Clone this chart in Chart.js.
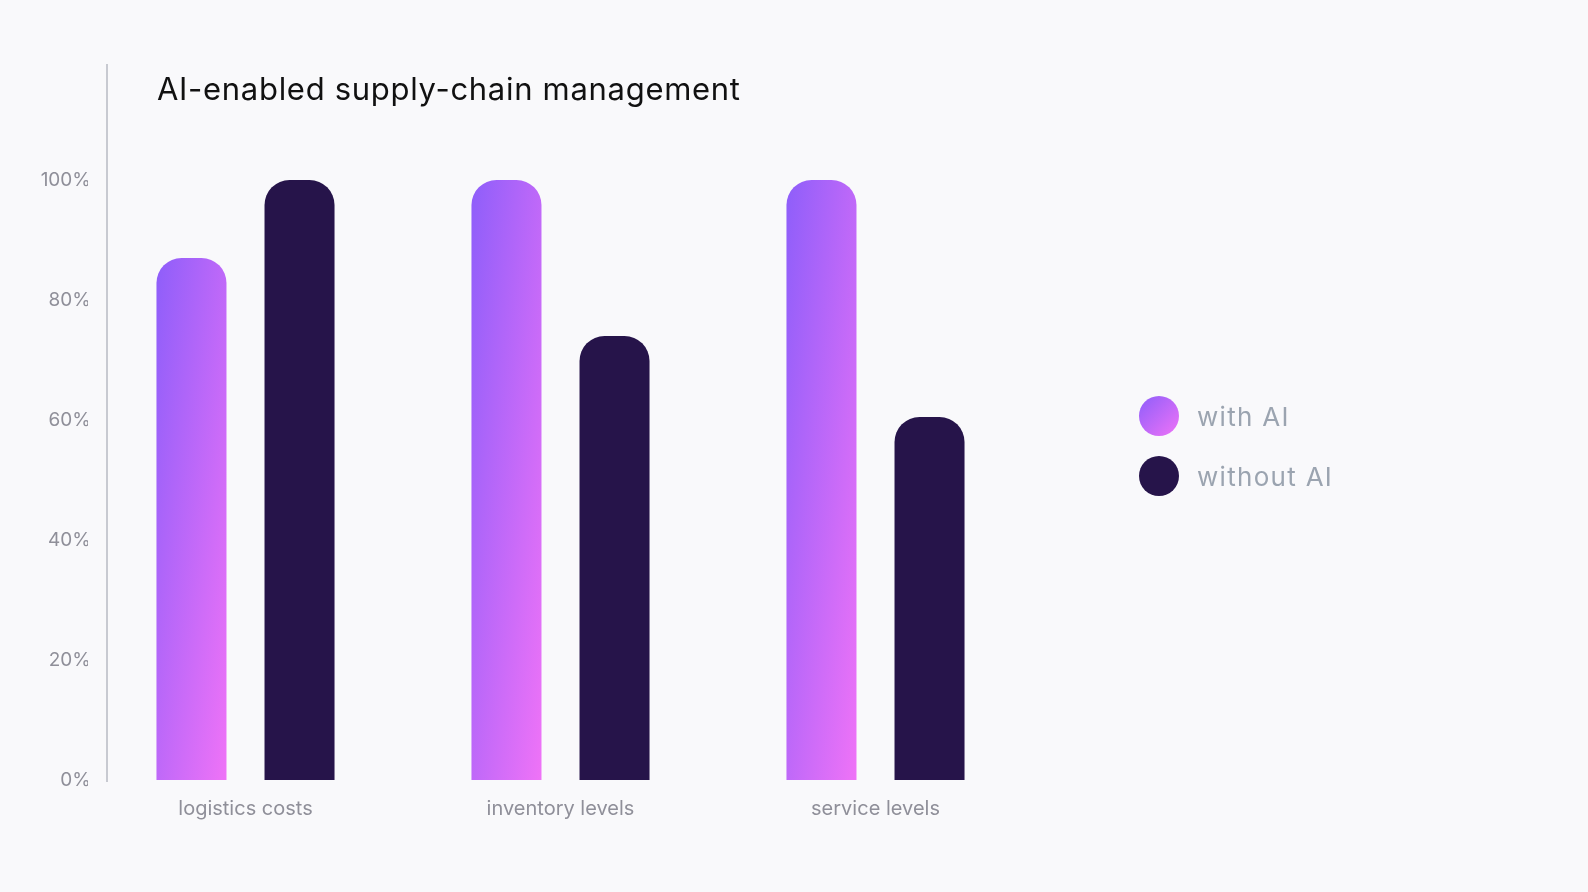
<!DOCTYPE html>
<html>
<head>
<meta charset="utf-8">
<script src="https://cdn.jsdelivr.net/npm/chart.js@4"></script>
<style>
  html, body { margin: 0; padding: 0; background: #f9f9fb; }
  #wrap { position: relative; width: 1588px; height: 892px; }
</style>
</head>
<body>
<div id="wrap"><canvas id="supplyChart"></canvas></div>
<script>
const chartTitle = "AI-enabled supply-chain management";
const categories = ["logistics costs", "inventory levels", "service levels"];
const seriesLabels = ["with AI", "without AI"];
const withAI = [87, 100, 100];
const withoutAI = [100, 74, 60.5];
const yTickValues = [0, 20, 40, 60, 80, 100];

const PURPLE_START = "#8e5efa";
const PURPLE_END = "#ef73f7";
const DARK = "#26144a";

// css-like "to bottom right" gradient for a w x h box
function boxGradient(ctx, left, top, w, h) {
  const k = (2 * w * h) / (w * w + h * h);
  const g = ctx.createLinearGradient(left, top, left + h * k, top + w * k);
  g.addColorStop(0, PURPLE_START);
  g.addColorStop(1, PURPLE_END);
  return g;
}

const gradientBars = {
  id: "gradientBars",
  beforeDatasetsDraw(chart) {
    const meta = chart.getDatasetMeta(0);
    meta.data.forEach((bar) => {
      const left = bar.x - bar.width / 2;
      const h = bar.base - bar.y;
      bar.options.backgroundColor = boxGradient(chart.ctx, left, bar.y, bar.width, h);
    });
  },
};

const decor = {
  id: "decor",
  beforeDraw(chart) {
    const { ctx, chartArea } = chart;
    // vertical axis rule
    const ax = chartArea.left + 19;
    ctx.save();
    ctx.strokeStyle = "#c8cad1";
    ctx.lineWidth = 2;
    ctx.beginPath();
    ctx.moveTo(ax, chartArea.top - 116);
    ctx.lineTo(ax, chartArea.bottom + 2);
    ctx.stroke();
    // title
    ctx.fillStyle = "#111111";
    ctx.font = "400 31px Inter, sans-serif";
    ctx.letterSpacing = "0.7px";
    ctx.textBaseline = "alphabetic";
    ctx.fillText(chartTitle, ax + 50, chartArea.top - 80);
    ctx.restore();
  },
  afterDraw(chart) {
    const { ctx, chartArea } = chart;
    const x0 = chartArea.right + 106;
    const y0 = chartArea.top + 236;
    ctx.save();
    ctx.font = "400 26px Inter, sans-serif";
    ctx.letterSpacing = "1.3px";
    ctx.textBaseline = "middle";
    chart.data.datasets.forEach((ds, i) => {
      const cy = y0 + i * 60;
      const r = 20;
      ctx.beginPath();
      ctx.arc(x0 + r, cy, r, 0, Math.PI * 2);
      ctx.fillStyle = i === 0 ? boxGradient(ctx, x0, cy - r, 2 * r, 2 * r) : ds.backgroundColor;
      ctx.fill();
      ctx.fillStyle = "#9ba4b0";
      ctx.fillText(ds.label, x0 + 58, cy + 2);
    });
    ctx.restore();
  },
};

new Chart(document.getElementById("supplyChart"), {
  type: "bar",
  data: {
    labels: categories,
    datasets: [
      {
        label: seriesLabels[0],
        data: withAI,
        backgroundColor: () => "#b469f8",
      },
      {
        label: seriesLabels[1],
        data: withoutAI,
        backgroundColor: DARK,
      },
    ],
  },
  options: {
    responsive: true,
    maintainAspectRatio: false,
    animation: false,
    layout: { padding: { left: 28, right: 555, top: 180, bottom: 50 } },
    datasets: {
      bar: {
        categoryPercentage: 0.686,
        barPercentage: 0.648,
        borderRadius: { topLeft: 25, topRight: 25, bottomLeft: 0, bottomRight: 0 },
        borderSkipped: "start",
      },
    },
    plugins: {
      legend: { display: false },
      title: { display: false },
      tooltip: { enabled: false },
    },
    scales: {
      x: {
        grid: { display: false, drawTicks: false },
        border: { display: false },
        ticks: {
          color: "#8f8f99",
          font: { family: "Inter", size: 20 },
          padding: 17,
        },
        afterFit(scale) { scale.height = 62; },
      },
      y: {
        min: 0,
        max: 100,
        grid: { display: false, drawTicks: false },
        border: { display: false },
        afterBuildTicks(scale) {
          scale.ticks = yTickValues.map((v) => ({ value: v }));
        },
        ticks: {
          color: "#8f8f99",
          font: { family: "Inter", size: 19 },
          padding: -3,
          callback: (v) => v + "%",
        },
        afterFit(scale) { scale.width = 60; },
      },
    },
  },
  plugins: [gradientBars, decor],
});
</script>
</body>
</html>
